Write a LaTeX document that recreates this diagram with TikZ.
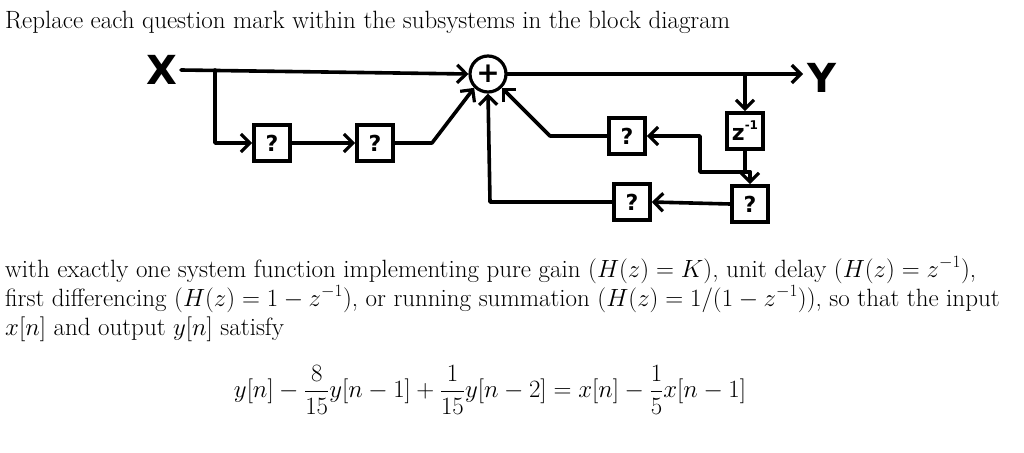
\documentclass[tikz,border=0pt]{standalone}
\usepackage{fontspec}
\newfontfamily\hand{DejaVu Sans}
\usetikzlibrary{arrows.meta}
\begin{document}
\begin{tikzpicture}[x=1pt,y=-1pt,
  w/.style={line width=3.6pt,line cap=round,line join=round},
  a/.style={w,-{Straight Barb[length=9pt,width=18pt,line width=3.2pt]}},
  bx/.style={draw,line width=3.6pt,minimum width=36pt,minimum height=36pt,inner sep=0pt,font=\hand\bfseries\fontsize{22}{22}\selectfont},
  tx/.style={anchor=base west,inner sep=0pt,font=\fontsize{25}{29}\selectfont}]
\useasboundingbox (0,0) rectangle (1024,452);
\node[tx] (title) at (5,29) {Replace each question mark within the subsystems in the block diagram};
\node[font=\hand\bfseries\fontsize{40}{40}\selectfont] (x) at (162,70) {X};
\node[font=\hand\bfseries\fontsize{40}{40}\selectfont] (y) at (822,78) {Y};
\node[draw,circle,line width=3.2pt,minimum size=36pt,inner sep=0pt,font=\hand\bfseries\fontsize{28}{28}\selectfont] (s) at (488,74) {+};
\node[bx] (b1) at (272,143) {?};
\node[bx] (b2) at (375,143) {?};
\node[bx] (z) at (745,131) {z\raisebox{0.5em}{\fontsize{12}{12}\selectfont -1}};
\node[bx] (b4) at (750,204) {?};
\node[bx] (b3) at (627,136) {?};
\node[bx] (b5) at (632,202) {?};
\coordinate (t1) at (215,70);
\coordinate (t2) at (745,74);
\coordinate (t3) at (745,172);
\coordinate (t4) at (750,172);
\draw[a] (x.east) -- (s.west);
\draw[a] (s.east) -- (803,74);
\draw[a] (t1) -- (215,143) -- (b1.west);
\draw[a] (b1.east) -- (b2.west);
\draw[a] (b2.east) -- (432,143) -- (s.south west);
\draw[a] (t2) -- (z.north);
\draw[w] (z.south) -- (t3) -- (t4);
\draw[a] (t4) -- (b4.north);
\draw[a] (t3) -- (700,172) -- (700,136) -- (b3.east);
\draw[a] (b3.west) -- (550,136) -- (s.south east);
\draw[a] (b4.west) -- (b5.east);
\draw[a] (b5.west) -- (490,202) -- (s.south);
\node[tx] (p) at (5,277) {with exactly one system function implementing pure gain ($H(z)=K$), unit delay ($H(z)=z^{-1}$),};
\node[tx] (p2) at (5,306) {first differencing ($H(z)=1-z^{-1}$), or running summation ($H(z)=1/(1-z^{-1})$), so that the input};
\node[tx] (p3) at (5,335) {$x[n]$ and output $y[n]$ satisfy};
\node[font=\fontsize{26}{30}\selectfont] (eq) at (490,390) {$\displaystyle y[n]-\frac{8}{15}y[n-1]+\frac{1}{15}y[n-2]=x[n]-\frac{1}{5}x[n-1]$};
\end{tikzpicture}
\end{document}
